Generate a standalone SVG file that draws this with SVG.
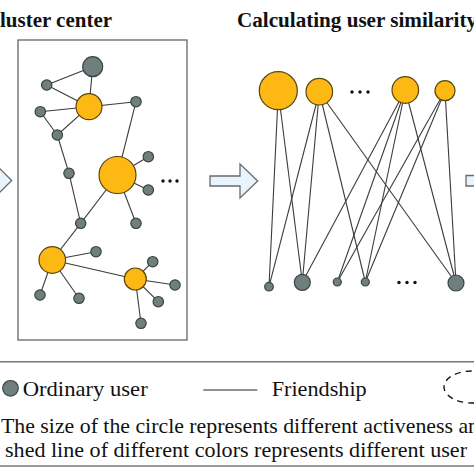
<svg xmlns="http://www.w3.org/2000/svg" width="474" height="474" viewBox="0 0 474 474">
<style>
.o{fill:#FDB813;stroke:#5a4510;stroke-width:1.2}
.g{fill:#6f7f7e;stroke:#3a4242;stroke-width:1.2}
.e{stroke:#3c3c3c;stroke-width:1.1;fill:none}
.arr{fill:#e9f3fc;stroke:#6a6a6a;stroke-width:1.3}
.t{font-family:"Liberation Serif","Times New Roman",serif;fill:#111}
.b{font-weight:bold;font-size:20px}
.n{font-size:21px}
.dots{fill:#111}
</style>
<rect width="474" height="474" fill="#fff"/>
<text class="t b" x="0" y="27" textLength="112" lengthAdjust="spacingAndGlyphs">luster center</text>
<text class="t b" x="237" y="27" textLength="240" lengthAdjust="spacingAndGlyphs">Calculating user similarity</text>
<rect x="18" y="40" width="169" height="300" fill="none" stroke="#666" stroke-width="1.3"/>
<g id="arrows">
<polygon class="arr" points="-30,176 -6,176 -6,163 11.7,180.5 -6,198 -6,186 -30,186"/>
<polygon class="arr" points="210,176 240,176 240,164 257.7,181 240,198 240,186 210,186"/>
<polygon class="arr" points="466,175.5 490,175.5 490,186 466,186"/>
</g>
<g id="connectors">
<line class="e" x1="92.7" y1="66.7" x2="89" y2="106.7"/>
<line class="e" x1="92.7" y1="66.7" x2="46.7" y2="85"/>
<line class="e" x1="46.7" y1="85" x2="89" y2="106.7"/>
<line class="e" x1="89" y1="106.7" x2="136" y2="101.7"/>
<line class="e" x1="89" y1="106.7" x2="40.3" y2="111.7"/>
<line class="e" x1="89" y1="106.7" x2="57.3" y2="135"/>
<line class="e" x1="40.3" y1="111.7" x2="57.3" y2="135"/>
<line class="e" x1="57.3" y1="135" x2="69" y2="173.3"/>
<line class="e" x1="136" y1="101.7" x2="117.5" y2="175"/>
<line class="e" x1="117.5" y1="175" x2="148.3" y2="156.7"/>
<line class="e" x1="117.5" y1="175" x2="148.3" y2="190"/>
<line class="e" x1="117.5" y1="175" x2="136" y2="223.3"/>
<line class="e" x1="69" y1="173.3" x2="80.7" y2="223.3"/>
<line class="e" x1="117.5" y1="175" x2="80.7" y2="223.3"/>
<line class="e" x1="80.7" y1="223.3" x2="52.3" y2="260"/>
<line class="e" x1="52.3" y1="260" x2="96" y2="251.7"/>
<line class="e" x1="52.3" y1="260" x2="40" y2="295"/>
<line class="e" x1="52.3" y1="260" x2="79" y2="298.3"/>
<line class="e" x1="52.3" y1="260" x2="135.3" y2="279"/>
<line class="e" x1="135.3" y1="279" x2="152.7" y2="261.7"/>
<line class="e" x1="135.3" y1="279" x2="175" y2="285"/>
<line class="e" x1="135.3" y1="279" x2="158.3" y2="301.7"/>
<line class="e" x1="135.3" y1="279" x2="141" y2="323.3"/>
<line class="e" x1="278.3" y1="92" x2="269" y2="286.7"/>
<line class="e" x1="278.3" y1="92" x2="302.3" y2="282.3"/>
<line class="e" x1="319.3" y1="92" x2="269" y2="286.7"/>
<line class="e" x1="319.3" y1="92" x2="302.3" y2="282.3"/>
<line class="e" x1="319.3" y1="92" x2="365.3" y2="282"/>
<line class="e" x1="319.3" y1="92" x2="456" y2="283"/>
<line class="e" x1="405.3" y1="90" x2="302.3" y2="282.3"/>
<line class="e" x1="405.3" y1="90" x2="337.3" y2="282"/>
<line class="e" x1="405.3" y1="90" x2="365.3" y2="282"/>
<line class="e" x1="405.3" y1="90" x2="456" y2="283"/>
<line class="e" x1="445" y1="90.7" x2="337.3" y2="282"/>
<line class="e" x1="445" y1="90.7" x2="365.3" y2="282"/>
<line class="e" x1="445" y1="90.7" x2="456" y2="283"/>
</g>
<g id="cluster-nodes">
<circle id="n1" class="g" cx="92.7" cy="66.7" r="10"/>
<circle id="n2" class="g" cx="46.7" cy="85" r="5.2"/>
<circle id="n3" class="o" cx="89" cy="106.7" r="13"/>
<circle id="n4" class="g" cx="136" cy="101.7" r="5.2"/>
<circle id="n5" class="g" cx="40.3" cy="111.7" r="5.2"/>
<circle id="n6" class="g" cx="57.3" cy="135" r="5.2"/>
<circle id="n7" class="g" cx="148.3" cy="156.7" r="5.2"/>
<circle id="n8" class="o" cx="117.5" cy="175" r="18.5"/>
<circle id="n9" class="g" cx="69" cy="173.3" r="5.2"/>
<circle id="n10" class="g" cx="148.3" cy="190" r="5.2"/>
<circle id="n11" class="g" cx="136" cy="223.3" r="5.2"/>
<circle id="n12" class="g" cx="80.7" cy="223.3" r="5.2"/>
<circle id="n13" class="o" cx="52.3" cy="260" r="13.3"/>
<circle id="n14" class="g" cx="96" cy="251.7" r="5.2"/>
<circle id="n15" class="o" cx="135.3" cy="279" r="11"/>
<circle id="n16" class="g" cx="152.7" cy="261.7" r="5.2"/>
<circle id="n17" class="g" cx="175" cy="285" r="5.2"/>
<circle id="n18" class="g" cx="158.3" cy="301.7" r="5.2"/>
<circle id="n19" class="g" cx="141" cy="323.3" r="5.2"/>
<circle id="n20" class="g" cx="40" cy="295" r="5.2"/>
<circle id="n21" class="g" cx="79" cy="298.3" r="5.2"/>
<g class="dots"><circle cx="163" cy="181" r="1.7"/><circle cx="170" cy="181" r="1.7"/><circle cx="177" cy="181" r="1.7"/></g>
</g>
<g id="bipartite-nodes">
<circle id="A" class="o" cx="278.3" cy="90.7" r="19"/>
<circle id="B" class="o" cx="319.3" cy="91.7" r="13.3"/>
<circle id="C" class="o" cx="405.3" cy="90" r="13.3"/>
<circle id="D" class="o" cx="445" cy="90.7" r="10"/>
<circle id="a" class="g" cx="269" cy="286.7" r="4.3"/>
<circle id="b" class="g" cx="302.3" cy="282.3" r="8"/>
<circle id="c" class="g" cx="337.3" cy="282" r="4"/>
<circle id="d" class="g" cx="365.3" cy="282" r="4"/>
<circle id="e" class="g" cx="456" cy="283" r="8"/>
<g class="dots"><circle cx="352" cy="92" r="1.7"/><circle cx="360" cy="92" r="1.7"/><circle cx="368" cy="92" r="1.7"/><circle cx="399" cy="282.5" r="1.7"/><circle cx="407" cy="282.5" r="1.7"/><circle cx="415" cy="282.5" r="1.7"/></g>
</g>
<g id="legend">
<line x1="0" y1="361.7" x2="474" y2="361.7" stroke="#777" stroke-width="1.5"/>
<line x1="0" y1="466" x2="474" y2="466" stroke="#777" stroke-width="1.5"/>
<circle class="g" cx="10.5" cy="388.3" r="7.8"/>
<text class="t n" x="22.7" y="395.5" textLength="125" lengthAdjust="spacingAndGlyphs">Ordinary user</text>
<line x1="203.3" y1="390" x2="257.3" y2="390" stroke="#222" stroke-width="1.1"/>
<text class="t n" x="271.7" y="395.5" textLength="95" lengthAdjust="spacingAndGlyphs">Friendship</text>
<ellipse cx="472" cy="387" rx="28" ry="16" fill="none" stroke="#111" stroke-width="1.4" stroke-dasharray="6,5"/>
<text class="t n" x="1" y="433" textLength="478" lengthAdjust="spacingAndGlyphs">The size of the circle represents different activeness an</text>
<text class="t n" x="5" y="457" textLength="462" lengthAdjust="spacingAndGlyphs">shed line of different colors represents different user</text>
</g>
</svg>
